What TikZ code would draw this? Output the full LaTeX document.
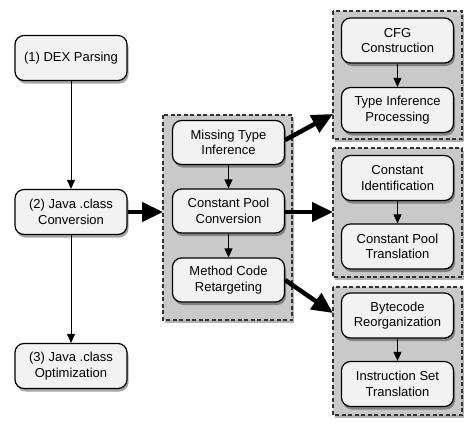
\documentclass[tikz,border=0pt]{standalone}
\usepackage{fontspec}
\setmainfont{Liberation Sans}
\usetikzlibrary{arrows.meta,shadows,positioning}
\tikzset{
  box/.style={draw=black, line width=1.2pt, rounded corners=9pt, fill=boxfill,
    minimum width=112pt, minimum height=45pt, align=center, inner sep=2pt,
    font=\fontsize{13}{15.5}\selectfont,
    drop shadow={shadow xshift=1.5pt, shadow yshift=-3pt, opacity=0.35, fill=black}},
  grp/.style={draw=black!80, dashed, dash pattern=on 4pt off 2.5pt, line width=1.1pt, fill=grpfill,
    drop shadow={shadow xshift=1.5pt, shadow yshift=-3pt, opacity=0.3, fill=black}},
  thin/.style={-{Triangle[length=9pt,width=8pt]}, line width=0.9pt},
  thick/.style={-{Triangle[length=21pt,width=19pt]}, line width=4.5pt}
}
\definecolor{boxfill}{HTML}{F2F2F2}
\definecolor{grpfill}{HTML}{C9C9C9}
\begin{document}
\begin{tikzpicture}[x=1pt,y=-1pt]
\useasboundingbox (0,0) rectangle (474,434);
% groups
\path[grp] (163,115) rectangle (292,320);
\path[grp] (333,11) rectangle (462,139);
\path[grp] (333,148) rectangle (462,277);
\path[grp] (333,287) rectangle (462,415);
\coordinate (gm) at (163,212);
\coordinate (g1) at (333,114);
\coordinate (g2) at (333,212);
\coordinate (g3) at (333,313);
% left column
\node[box] (dex) at (71,58) {(1) DEX Parsing};
\node[box] (conv) at (71,212) {(2) Java .class\\Conversion};
\node[box] (opt) at (71,366) {(3) Java .class\\Optimization};
% middle
\node[box, minimum height=44pt] (mti) at (228.5,142.5) {Missing Type\\Inference};
\node[box, minimum height=44pt] (cpc) at (228.5,211) {Constant Pool\\Conversion};
\node[box, minimum height=44pt] (mcr) at (228.5,280) {Method Code\\Retargeting};
% right
\node[box] (cfg) at (397.5,40.5) {CFG\\Construction};
\node[box] (tip) at (397.5,110) {Type Inference\\Processing};
\node[box] (ci) at (397.5,178) {Constant\\Identification};
\node[box] (cpt) at (397.5,246.5) {Constant Pool\\Translation};
\node[box] (br) at (397.5,315.5) {Bytecode\\Reorganization};
\node[box] (ist) at (397.5,384) {Instruction Set\\Translation};
% thin arrows
\draw[thin] (dex) -- (conv);
\draw[thin] (conv) -- (opt);
\draw[thin] (mti) -- (cpc);
\draw[thin] (cpc) -- (mcr);
\draw[thin] (cfg) -- (tip);
\draw[thin] (ci) -- (cpt);
\draw[thin] (br) -- (ist);
% thick arrows
\draw[thick] (conv.east) -- (gm);
\draw[thick] (mti.east |- 0,140) -- (g1);
\draw[thick] (cpc.east |- 0,212) -- (g2);
\draw[thick] (mcr.east |- 0,280) -- (g3);
\end{tikzpicture}
\end{document}
